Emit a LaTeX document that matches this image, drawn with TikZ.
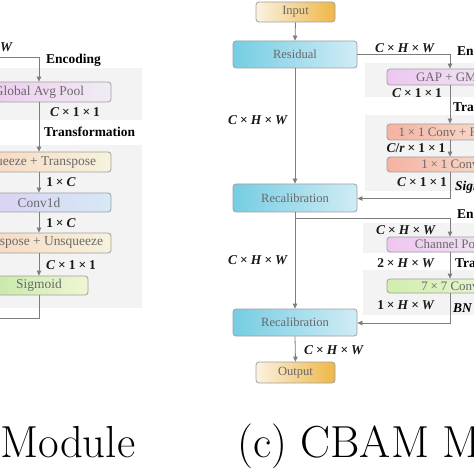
\documentclass[tikz,border=0pt]{standalone}
\usepackage{fontspec}
\usetikzlibrary{arrows.meta}
\newfontfamily\tnr{Liberation Serif}
\newcommand\tx{\hspace{0.22em}×\hspace{0.22em}}
\definecolor{lc}{RGB}{125,125,125}
\definecolor{panelc}{RGB}{243,243,243}
\definecolor{bordc}{RGB}{160,160,160}
\definecolor{boxtxt}{RGB}{105,105,105}
\definecolor{gapL}{RGB}{238,198,240}\definecolor{gapR}{RGB}{240,236,242}
\definecolor{sqL}{RGB}{248,212,192}\definecolor{sqR}{RGB}{246,243,220}
\definecolor{cvL}{RGB}{218,206,242}\definecolor{cvR}{RGB}{214,232,246}
\definecolor{sgL}{RGB}{198,232,168}\definecolor{sgR}{RGB}{240,246,212}
\definecolor{ioL}{RGB}{250,242,225}\definecolor{ioR}{RGB}{240,182,70}
\definecolor{rsL}{RGB}{118,205,226}\definecolor{rsR}{RGB}{208,236,246}
\definecolor{c1L}{RGB}{245,178,162}\definecolor{c1R}{RGB}{248,228,214}
\definecolor{g7L}{RGB}{208,238,172}\definecolor{g7R}{RGB}{238,246,218}
\begin{document}
\begin{tikzpicture}[x=1bp,y=-1bp,
  box/.style={draw=bordc, line width=0.8bp, rounded corners=3bp, inner sep=0pt,
    text=boxtxt, shading=axis, shading angle=90},
  lbox/.style={box, font=\tnr\fontsize{13.5}{15}\selectfont},
  mbox/.style={box, font=\tnr\fontsize{12.6}{14}\selectfont, minimum width=124bp},
  rbox/.style={box, font=\tnr\fontsize{13}{14}\selectfont, minimum width=126bp},
  conn/.style={draw=lc, line width=0.8bp},
  arr/.style={conn, -{Triangle[length=5bp,width=4.5bp]}},
  dimlab/.style={font=\tnr\bfseries\fontsize{13.5}{16}\selectfont, text=black!90, inner sep=0pt},
  boldlab/.style={font=\tnr\bfseries\fontsize{13.5}{15}\selectfont, text=black, inner sep=0pt, anchor=west},
  panel/.style={fill=panelc, draw=none},
  captext/.style={anchor=base west, inner sep=0pt, font=\fontsize{45}{49}\selectfont}
]
\useasboundingbox (0,0) rectangle (474,474);
\clip (0,0) rectangle (474,474);
\fill[white] (0,0) rectangle (474,474);

% ---------- background panels ----------
\path[panel] (-10,68) rectangle (142,120);
\path[panel] (-10,145) rectangle (142,308);
\path[panel] (365,63) rectangle (480,97);
\path[panel] (365,115) rectangle (480,191);
\path[panel] (363,223) rectangle (480,253);
\path[panel] (363,270) rectangle (480,315);

% ---------- left column (b) ----------
\node[lbox, left color=gapL, right color=gapR, minimum width=144bp, minimum height=20bp] (gap) at (39,92) {Global Avg Pool};
\node[lbox, left color=sqL, right color=sqR, minimum width=144bp, minimum height=20bp] (sq) at (39,162) {Squeeze + Transpose};
\node[lbox, left color=cvL, right color=cvR, minimum width=144bp, minimum height=19bp] (c1d) at (39,202.5) {Conv1d};
\node[lbox, left color=sqL, right color=sqR, minimum width=144bp, minimum height=20bp] (tu) at (39,243) {Transpose + Unsqueeze};
\node[lbox, left color=sgL, right color=sgR, minimum width=98bp, minimum height=19bp] (sg) at (39,285.5) {Sigmoid};

\coordinate (lin) at (0,57);
\coordinate (lturn) at (39,57);
\coordinate (lbot) at (39,318);
\coordinate (lout) at (0,318);
\node[dimlab, anchor=east] (lw) at (13,47) {\textit{C}\tx\textit{H}\tx\textit{W}};
\draw[arr] (lin) -- (lturn) -- (gap.north);
\draw[arr] (gap.south) -- (sq.north);
\draw[arr] (sq.south) -- (c1d.north);
\draw[arr] (c1d.south) -- (tu.north);
\draw[arr] (tu.south) -- (sg.north);
\draw[conn] (sg.south) -- (lbot) -- (lout);

\node[boldlab] (lenc) at (46,60) {Encoding};
\node[boldlab] (ltra) at (44,132) {Transformation};
\node[dimlab] (ld1) at (75,112) {\textit{C}\tx 1\tx 1};
\node[dimlab] (ld2) at (61,182) {1\tx\textit{C}};
\node[dimlab] (ld3) at (61,223) {1\tx\textit{C}};
\node[dimlab] (ld4) at (71,265) {\textit{C}\tx 1\tx 1};

% ---------- main column (c) ----------
\node[mbox, left color=ioL, right color=ioR, minimum width=79bp, minimum height=20bp] (in) at (295.5,12) {Input};
\node[mbox, left color=rsL, right color=rsR, minimum height=27bp] (res) at (295,54.5) {Residual};
\node[mbox, left color=rsL, right color=rsR, minimum height=28bp] (rc1) at (295,198) {Recalibration};
\node[mbox, left color=rsL, right color=rsR, minimum height=27bp] (rc2) at (295,322.5) {Recalibration};
\node[mbox, left color=ioL, right color=ioR, minimum width=79bp, minimum height=21bp] (out) at (295.5,372.5) {Output};

\draw[arr] (in.south) -- (res.north);
\draw[arr] (res.south) -- (rc1.north);
\draw[arr] (rc1.south) -- (rc2.north);
\draw[arr] (rc2.south) -- (out.north);
\node[dimlab] (md1) at (258,120) {\textit{C}\tx\textit{H}\tx\textit{W}};
\node[dimlab] (md2) at (258,260) {\textit{C}\tx\textit{H}\tx\textit{W}};
\node[dimlab] (md3) at (334,350) {\textit{C}\tx\textit{H}\tx\textit{W}};

% ---------- right column: channel attention ----------
\node[rbox, left color=gapL, right color=gapR, minimum height=16bp] (gm) at (450,77) {GAP + GMP};
\node[rbox, left color=c1L, right color=c1R, minimum height=16bp] (cv1) at (450,132) {1\tx 1 Conv + ReLU};
\node[rbox, left color=c1L, right color=c1R, minimum height=15bp] (cv2) at (450,164.5) {1\tx 1 Conv};

\coordinate (ra) at (450,54);
\coordinate (rb) at (450,198.5);
\draw[arr] (res.east |- ra) -- (ra) -- (gm.north);
\draw[arr] (gm.south) -- (cv1.north);
\draw[arr] (cv1.south) -- (cv2.north);
\draw[arr] (cv2.south) -- (rb) -- (rc1.east |- rb);

\node[dimlab] (rd1) at (405,48) {\textit{C}\tx\textit{H}\tx\textit{W}};
\node[dimlab] (rd2) at (417,93) {\textit{C}\tx 1\tx 1};
\node[dimlab] (rd3) at (416,148) {\textit{C}/\textit{r}\tx 1\tx 1};
\node[dimlab] (rd4) at (422,182) {\textit{C}\tx 1\tx 1};
\node[boldlab] (renc) at (457,52) {Encoding};
\node[boldlab] (rtra) at (453,107) {Transformation};
\node[boldlab, font=\tnr\bfseries\itshape\fontsize{13.5}{15}\selectfont] (rsig) at (455,187) {Sigmoid};

% ---------- right column: spatial attention ----------
\node[rbox, left color=gapL, right color=gapR, minimum height=15bp] (cp) at (450,244.5) {Channel Pool};
\node[rbox, left color=g7L, right color=g7R, minimum height=14bp] (c7) at (450,286) {7\tx 7 Conv};

\coordinate (sa0) at (295,218);
\coordinate (sa) at (450,218);
\coordinate (sb) at (450,323);
\draw[arr] (sa0) -- (sa) -- (cp.north);
\draw[arr] (cp.south) -- (c7.north);
\draw[arr] (c7.south) -- (sb) -- (rc2.east |- sb);

\node[dimlab] (sd1) at (406,230) {\textit{C}\tx\textit{H}\tx\textit{W}};
\node[dimlab] (sd2) at (406,263) {2\tx\textit{H}\tx\textit{W}};
\node[dimlab] (sd3) at (406,305) {1\tx\textit{H}\tx\textit{W}};
\node[boldlab] (senc) at (457,215) {Encoding};
\node[boldlab] (stra) at (455,263) {Transformation};
\node[boldlab, font=\tnr\bfseries\itshape\fontsize{13.5}{15}\selectfont] (sbn) at (453,308) {BN};

% ---------- captions ----------
\node[captext] (capb) at (0,457) {Module};
\node[captext] (capc) at (237,457) {(c) CBAM Module};
\end{tikzpicture}
\end{document}
